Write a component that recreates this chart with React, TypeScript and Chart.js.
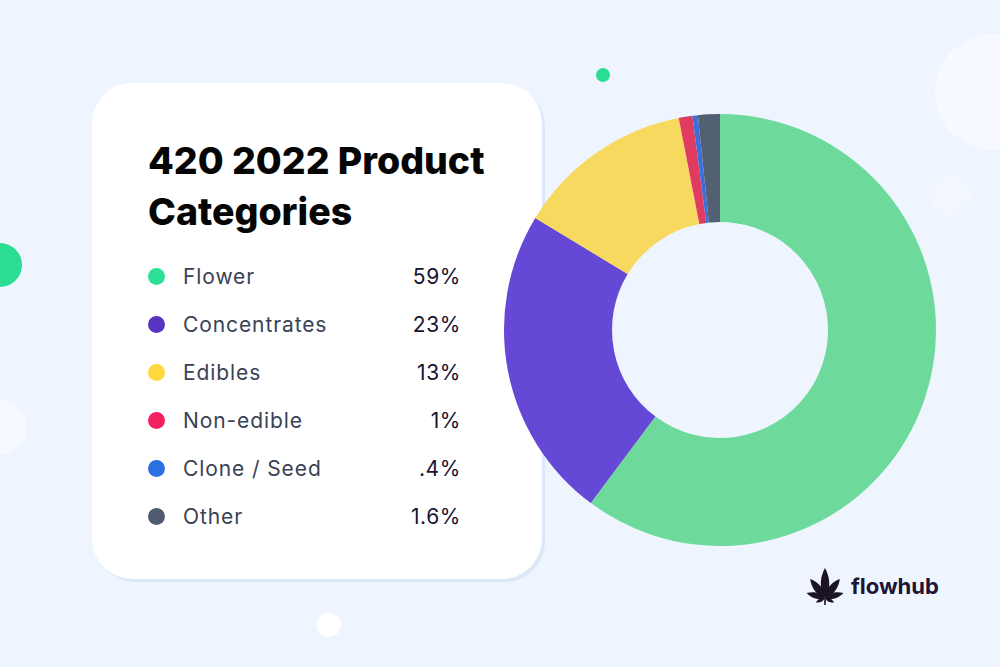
import React, { useEffect, useRef } from "react";
import { Chart, registerables } from "chart.js";

Chart.register(...registerables);

const categories = ["Flower", "Concentrates", "Edibles", "Non-edible", "Clone / Seed", "Other"];
const shares = [59, 23, 13, 1, 0.4, 1.6];
const shareLabels = ["59%", "23%", "13%", "1%", ".4%", "1.6%"];
const sliceColors = ["#6dd99a", "#6548d5", "#f8d95f", "#e03b61", "#3c6fda", "#535f73"];
const dotColors = ["#2ddf94", "#5934c4", "#ffd83f", "#f5205f", "#2c6fe0", "#4f5b70"];

const title = ["420 2022 Product", "Categories"];

function Leaf() {
  // cannabis leaf mark next to the wordmark
  const blade = (angle: number, len: number, w: number) => (
    <path
      key={angle}
      d={`M0 0 C ${w} ${-len * 0.35}, ${w * 0.6} ${-len * 0.75}, 0 ${-len} C ${-w * 0.6} ${-len * 0.75}, ${-w} ${-len * 0.35}, 0 0 Z`}
      transform={`rotate(${angle})`}
      fill="#1b1424"
    />
  );
  return (
    <svg width="40" height="40" viewBox="-20 -32 40 40" style={{ display: "block" }}>
      {blade(0, 30, 7)}
      {blade(-38, 24, 6)}
      {blade(38, 24, 6)}
      {blade(-75, 19, 5)}
      {blade(75, 19, 5)}
      {blade(-115, 10, 3)}
      {blade(115, 10, 3)}
      <rect x="-0.8" y="0" width="1.6" height="7" fill="#1b1424" />
    </svg>
  );
}

export default function App() {
  const canvasRef = useRef<HTMLCanvasElement | null>(null);

  useEffect(() => {
    document.body.style.margin = "0";
    const canvas = canvasRef.current;
    if (!canvas) return;
    const chart = new Chart(canvas, {
      type: "doughnut",
      data: {
        labels: categories,
        datasets: [
          {
            data: shares,
            backgroundColor: sliceColors,
            borderWidth: 0,
          },
        ],
      },
      options: {
        responsive: false,
        animation: false,
        cutout: "50%",
        layout: { padding: 4 },
        plugins: {
          legend: { display: false },
          tooltip: { enabled: false },
          title: { display: false },
        },
      },
    });
    return () => chart.destroy();
  }, []);

  const circle = (x: number, y: number, r: number, color: string) => ({
    position: "absolute" as const,
    left: x - r,
    top: y - r,
    width: r * 2,
    height: r * 2,
    borderRadius: "50%",
    background: color,
  });

  return (
    <div
      style={{
        position: "absolute",
        left: 0,
        top: 0,
        width: 1000,
        height: 667,
        overflow: "hidden",
        background: "#eef5fe",
        fontFamily: "Inter, 'Noto Sans', sans-serif",
      }}
    >
      <div style={circle(993, 92, 58, "#f6f9ff")} />
      <div style={circle(950, 195, 21, "#f1f6ff")} />
      <div style={circle(0, 427, 27, "#f6f9ff")} />
      <div style={circle(0, 265, 22, "#2bdd93")} />
      <div style={circle(603, 75, 7, "#2bdd93")} />
      <div style={circle(329, 625, 12, "#ffffff")} />

      <div
        style={{
          position: "absolute",
          left: 92,
          top: 83,
          width: 450,
          height: 496,
          background: "#ffffff",
          borderRadius: 40,
          boxShadow: "3px 3px 0 #dce7f8",
        }}
      >
        <div
          style={{
            position: "absolute",
            left: 56,
            top: 52,
            fontSize: 37.5,
            fontWeight: 800,
            lineHeight: "51px",
            color: "#050505",
          }}
        >
          {title.map((t) => (
            <div key={t} style={{ whiteSpace: "nowrap" }}>
              {t}
            </div>
          ))}
        </div>
        {categories.map((c, i) => (
          <div
            key={c}
            style={{
              position: "absolute",
              left: 56,
              top: 178 + 48 * i,
              width: 313,
              height: 30,
              display: "flex",
              alignItems: "center",
            }}
          >
            <div
              style={{
                width: 17,
                height: 17,
                borderRadius: "50%",
                background: dotColors[i],
                marginRight: 18,
                flex: "none",
              }}
            />
            <div style={{ fontSize: 21, color: "#394255", flex: 1, letterSpacing: 0.9 }}>{c}</div>
            <div style={{ fontSize: 21, color: "#17142f", textAlign: "right", letterSpacing: 0.6 }}>
              {shareLabels[i]}
            </div>
          </div>
        ))}
      </div>

      <canvas
        ref={canvasRef}
        width={440}
        height={440}
        style={{ position: "absolute", left: 500, top: 110, width: 440, height: 440 }}
      />

      <div
        style={{
          position: "absolute",
          left: 805,
          top: 566,
          display: "flex",
          alignItems: "center",
        }}
      >
        <Leaf />
        <div style={{ fontSize: 22, fontWeight: 700, color: "#1d1533", marginLeft: 6 }}>flowhub</div>
      </div>
    </div>
  );
}
